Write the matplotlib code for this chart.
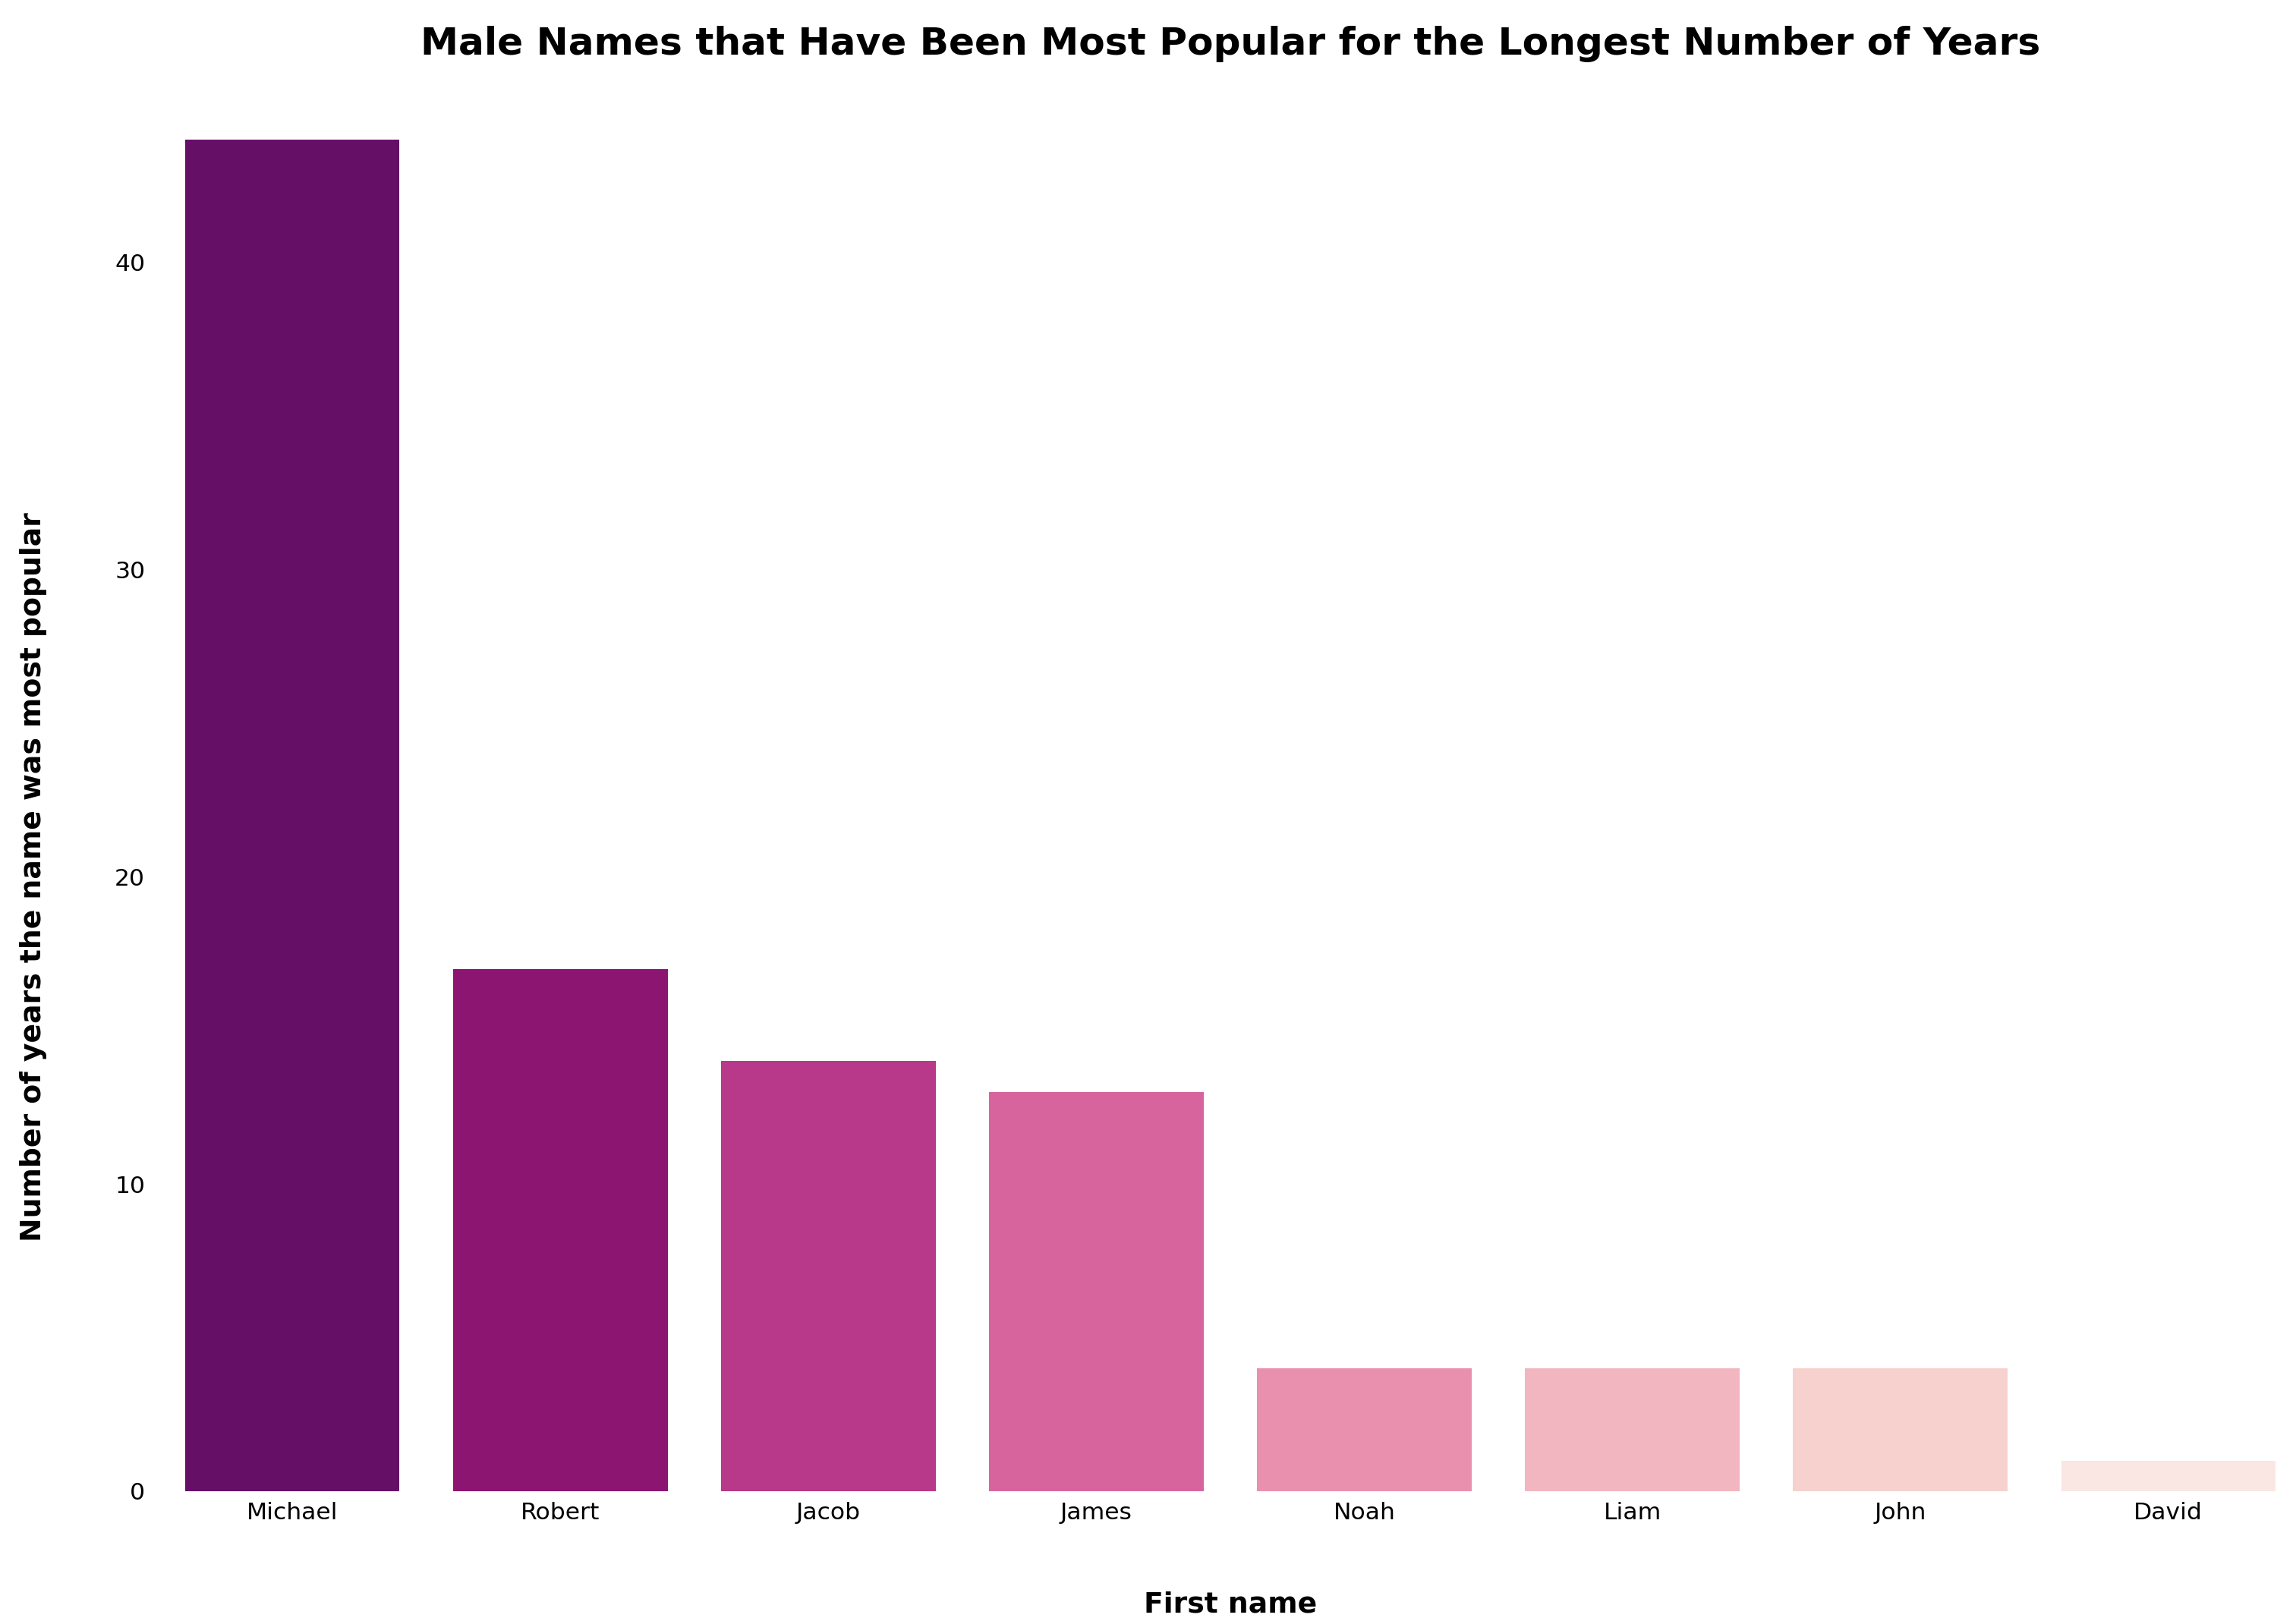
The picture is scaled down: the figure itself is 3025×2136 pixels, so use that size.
import matplotlib
matplotlib.use("Agg")
import matplotlib.pyplot as plt
import seaborn as sns

names = ["Michael", "Robert", "Jacob", "James", "Noah", "Liam", "John", "David"]
years = [44, 17, 14, 13, 4, 4, 4, 1]
yticks = [0, 10, 20, 30, 40]

W, H, DPI = 3025, 2136, 200
fig = plt.figure(figsize=(W / DPI, H / DPI), dpi=DPI)
x0, x1, y0, y1 = 244, 2998, 1965, 183.6
ax = fig.add_axes([x0 / W, 1 - y0 / H, (x1 - x0) / W, (y0 - y1) / H])

pal = sns.color_palette("RdPu_r", len(names))
cols = [sns.desaturate(c, 0.75) for c in pal]
pos = list(range(len(names)))
ax.bar(pos, years, width=0.8, color=cols)
ax.set_xlim(-0.4, len(names) - 0.6)
ax.set_ylim(0, 44)
ax.set_xticks(pos)
ax.set_xticklabels(names, fontsize=11.3)
ax.set_yticks(yticks)
ax.set_yticklabels([str(t) for t in yticks], fontsize=11.3)
ax.tick_params(axis="x", length=0, pad=5)
ax.tick_params(axis="y", length=0, pad=19)
for s in ax.spines.values():
    s.set_visible(False)
ax.set_xlabel("First name", fontsize=13.6, fontweight="bold", labelpad=32)
ax.set_ylabel("Number of years the name was most popular", fontsize=13.6, fontweight="bold",
              labelpad=32, y=0.4545, ha="center")
ax.set_title("Male Names that Have Been Most Popular for the Longest Number of Years",
             fontsize=18.1, fontweight="bold", pad=40)
fig.savefig("out.png", dpi=DPI)
